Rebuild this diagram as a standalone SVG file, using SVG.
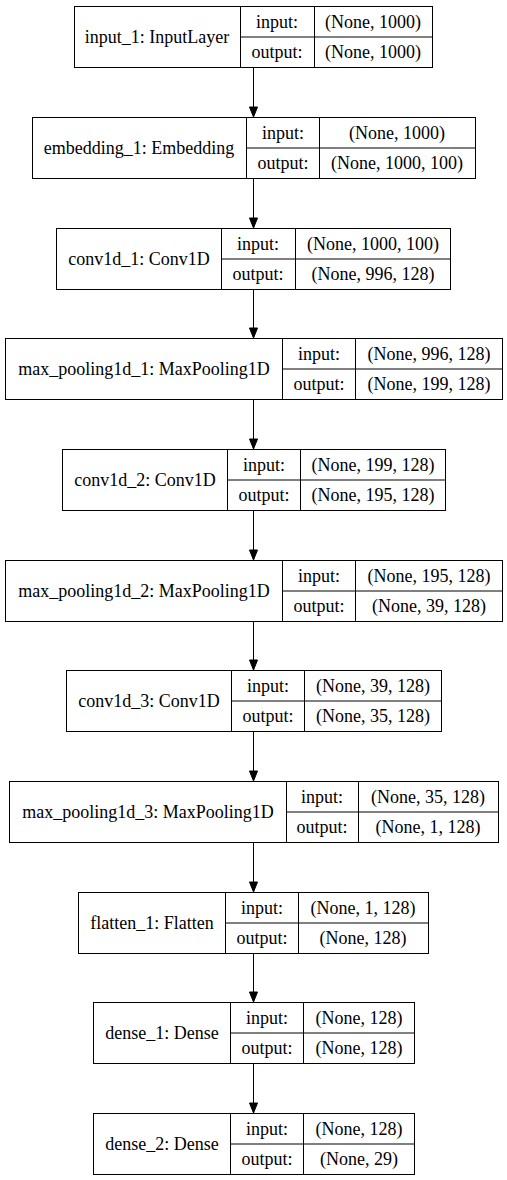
<svg xmlns="http://www.w3.org/2000/svg" width="507" height="1180" viewBox="0 0 507 1180">
<style>
.b{fill:#fff;stroke:#000;stroke-width:1}
.l{stroke:#000;stroke-width:1;fill:none}
text{font-family:'Liberation Serif','Times New Roman','DejaVu Serif',serif;font-size:18px;fill:#000;text-anchor:middle}
.ah{fill:#000;stroke:#000;stroke-width:1}
</style>
<rect width="507" height="1180" fill="#fff"/>
<g id="connectors">
<path class="l" d="M253.5 67V107M253.5 178V218M253.5 289V328M253.5 399V439M253.5 510V550M253.5 621V660M253.5 731V771M253.5 842V882M253.5 953V992M253.5 1063V1103"/>
<polygon class="ah" points="249.5,107 257.5,107 253.5,117"/>
<polygon class="ah" points="249.5,218 257.5,218 253.5,228"/>
<polygon class="ah" points="249.5,328 257.5,328 253.5,338"/>
<polygon class="ah" points="249.5,439 257.5,439 253.5,449"/>
<polygon class="ah" points="249.5,550 257.5,550 253.5,560"/>
<polygon class="ah" points="249.5,660 257.5,660 253.5,670"/>
<polygon class="ah" points="249.5,771 257.5,771 253.5,781"/>
<polygon class="ah" points="249.5,882 257.5,882 253.5,892"/>
<polygon class="ah" points="249.5,992 257.5,992 253.5,1002"/>
<polygon class="ah" points="249.5,1103 257.5,1103 253.5,1113"/>
</g>
<g id="input_1">
<rect class="b" x="74.5" y="6.5" width="358" height="61"/>
<path class="l" d="M240.5 6.5V67.5M314.5 6.5V67.5M240.5 37H432.5"/>
<text x="157" y="43">input_1: InputLayer</text>
<text x="277" y="28">input:</text><text x="277" y="58">output:</text>
<text x="373" y="28">(None, 1000)</text><text x="373" y="58">(None, 1000)</text>
</g>
<g id="embedding_1">
<rect class="b" x="32.5" y="117.5" width="443" height="61"/>
<path class="l" d="M246.5 117.5V178.5M319.5 117.5V178.5M246.5 148H475.5"/>
<text x="139" y="154">embedding_1: Embedding</text>
<text x="283" y="139">input:</text><text x="283" y="169">output:</text>
<text x="397" y="139">(None, 1000)</text><text x="397" y="169">(None, 1000, 100)</text>
</g>
<g id="conv1d_1">
<rect class="b" x="56.5" y="228.5" width="394" height="61"/>
<path class="l" d="M221.5 228.5V289.5M295.5 228.5V289.5M221.5 259H450.5"/>
<text x="139" y="265">conv1d_1: Conv1D</text>
<text x="258" y="250">input:</text><text x="258" y="280">output:</text>
<text x="373" y="250">(None, 1000, 100)</text><text x="373" y="280">(None, 996, 128)</text>
</g>
<g id="max_pooling1d_1">
<rect class="b" x="5.5" y="338.5" width="497" height="61"/>
<path class="l" d="M282.5 338.5V399.5M355.5 338.5V399.5M282.5 369H502.5"/>
<text x="144" y="375">max_pooling1d_1: MaxPooling1D</text>
<text x="319" y="360">input:</text><text x="319" y="390">output:</text>
<text x="429" y="360">(None, 996, 128)</text><text x="429" y="390">(None, 199, 128)</text>
</g>
<g id="conv1d_2">
<rect class="b" x="62.5" y="449.5" width="383" height="61"/>
<path class="l" d="M227.5 449.5V510.5M300.5 449.5V510.5M227.5 480H445.5"/>
<text x="145" y="486">conv1d_2: Conv1D</text>
<text x="264" y="471">input:</text><text x="264" y="501">output:</text>
<text x="373" y="471">(None, 199, 128)</text><text x="373" y="501">(None, 195, 128)</text>
</g>
<g id="max_pooling1d_2">
<rect class="b" x="5.5" y="560.5" width="497" height="61"/>
<path class="l" d="M282.5 560.5V621.5M355.5 560.5V621.5M282.5 591H502.5"/>
<text x="144" y="597">max_pooling1d_2: MaxPooling1D</text>
<text x="319" y="582">input:</text><text x="319" y="612">output:</text>
<text x="429" y="582">(None, 195, 128)</text><text x="429" y="612">(None, 39, 128)</text>
</g>
<g id="conv1d_3">
<rect class="b" x="66.5" y="670.5" width="375" height="61"/>
<path class="l" d="M231.5 670.5V731.5M304.5 670.5V731.5M231.5 701H441.5"/>
<text x="149" y="707">conv1d_3: Conv1D</text>
<text x="268" y="692">input:</text><text x="268" y="722">output:</text>
<text x="373" y="692">(None, 39, 128)</text><text x="373" y="722">(None, 35, 128)</text>
</g>
<g id="max_pooling1d_3">
<rect class="b" x="9.5" y="781.5" width="489" height="61"/>
<path class="l" d="M286.5 781.5V842.5M358.5 781.5V842.5M286.5 812H498.5"/>
<text x="148" y="818">max_pooling1d_3: MaxPooling1D</text>
<text x="322" y="803">input:</text><text x="322" y="833">output:</text>
<text x="428" y="803">(None, 35, 128)</text><text x="428" y="833">(None, 1, 128)</text>
</g>
<g id="flatten_1">
<rect class="b" x="78.5" y="892.5" width="350" height="61"/>
<path class="l" d="M225.5 892.5V953.5M298.5 892.5V953.5M225.5 923H428.5"/>
<text x="152" y="929">flatten_1: Flatten</text>
<text x="262" y="914">input:</text><text x="262" y="944">output:</text>
<text x="363" y="914">(None, 1, 128)</text><text x="363" y="944">(None, 128)</text>
</g>
<g id="dense_1">
<rect class="b" x="93.5" y="1002.5" width="321" height="61"/>
<path class="l" d="M230.5 1002.5V1063.5M303.5 1002.5V1063.5M230.5 1033H414.5"/>
<text x="162" y="1039">dense_1: Dense</text>
<text x="267" y="1024">input:</text><text x="267" y="1054">output:</text>
<text x="359" y="1024">(None, 128)</text><text x="359" y="1054">(None, 128)</text>
</g>
<g id="dense_2">
<rect class="b" x="93.5" y="1113.5" width="321" height="61"/>
<path class="l" d="M230.5 1113.5V1174.5M303.5 1113.5V1174.5M230.5 1144H414.5"/>
<text x="162" y="1150">dense_2: Dense</text>
<text x="267" y="1135">input:</text><text x="267" y="1165">output:</text>
<text x="359" y="1135">(None, 128)</text><text x="359" y="1165">(None, 29)</text>
</g>
</svg>
